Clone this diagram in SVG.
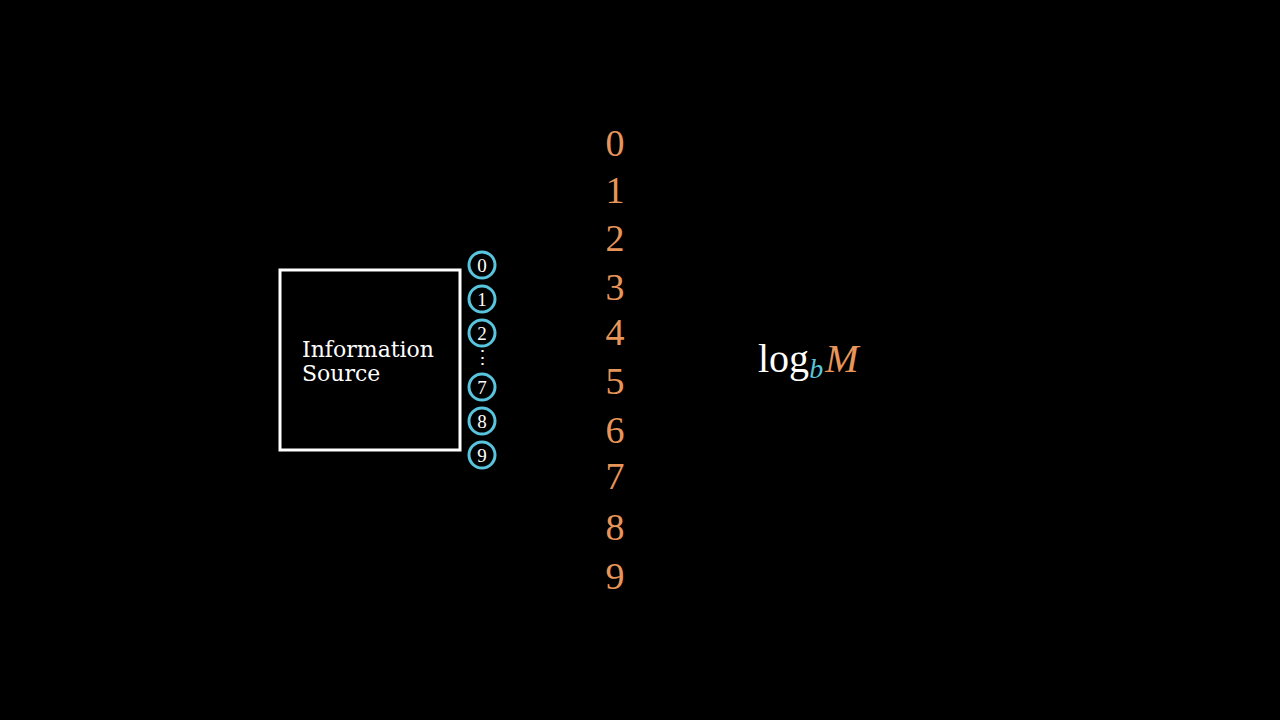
<svg xmlns="http://www.w3.org/2000/svg" width="1280" height="720" viewBox="0 0 1280 720">
<style>
.w{fill:#fff;font-family:"DejaVu Serif","Liberation Serif",serif}
.c{fill:none;stroke:#58c4dd;stroke-width:3}
.d{fill:#fff;font-family:"Liberation Serif",serif;font-size:19px;text-anchor:middle}
.o{fill:#e8955a;font-family:"Liberation Serif",serif;font-size:38px;text-anchor:middle}
</style>
<rect width="1280" height="720" fill="#000"/>
<g id="source">
<rect x="280" y="270" width="180" height="180" fill="none" stroke="#fff" stroke-width="3"/>
<text class="w" x="302" y="357" font-size="22">Information</text>
<text class="w" x="302" y="381" font-size="22">Source</text>
</g>
<g id="symbols">
<circle class="c" cx="482" cy="265" r="13"/><text class="d" x="482" y="272">0</text>
<circle class="c" cx="482" cy="299" r="13"/><text class="d" x="482" y="306">1</text>
<circle class="c" cx="482" cy="333" r="13"/><text class="d" x="482" y="340">2</text>
<text class="d" x="482" y="364" font-size="14">⋮</text>
<circle class="c" cx="482" cy="387" r="13"/><text class="d" x="482" y="394">7</text>
<circle class="c" cx="482" cy="421" r="13"/><text class="d" x="482" y="428">8</text>
<circle class="c" cx="482" cy="455" r="13"/><text class="d" x="482" y="462">9</text>
</g>
<g id="digits">
<text class="o" x="615" y="156">0</text>
<text class="o" x="615" y="203">1</text>
<text class="o" x="615" y="251">2</text>
<text class="o" x="615" y="300">3</text>
<text class="o" x="615" y="345">4</text>
<text class="o" x="615" y="394">5</text>
<text class="o" x="615" y="443">6</text>
<text class="o" x="615" y="489">7</text>
<text class="o" x="615" y="540">8</text>
<text class="o" x="615" y="589">9</text>
</g>
<g id="formula">
<text x="758" y="372" font-family="Liberation Serif,serif" font-size="40" fill="#fff">log<tspan fill="#58c4dd" font-style="italic" font-size="28" dy="6">b</tspan><tspan fill="#e8955a" font-style="italic" dy="-6" dx="2">M</tspan></text>
</g>
</svg>
